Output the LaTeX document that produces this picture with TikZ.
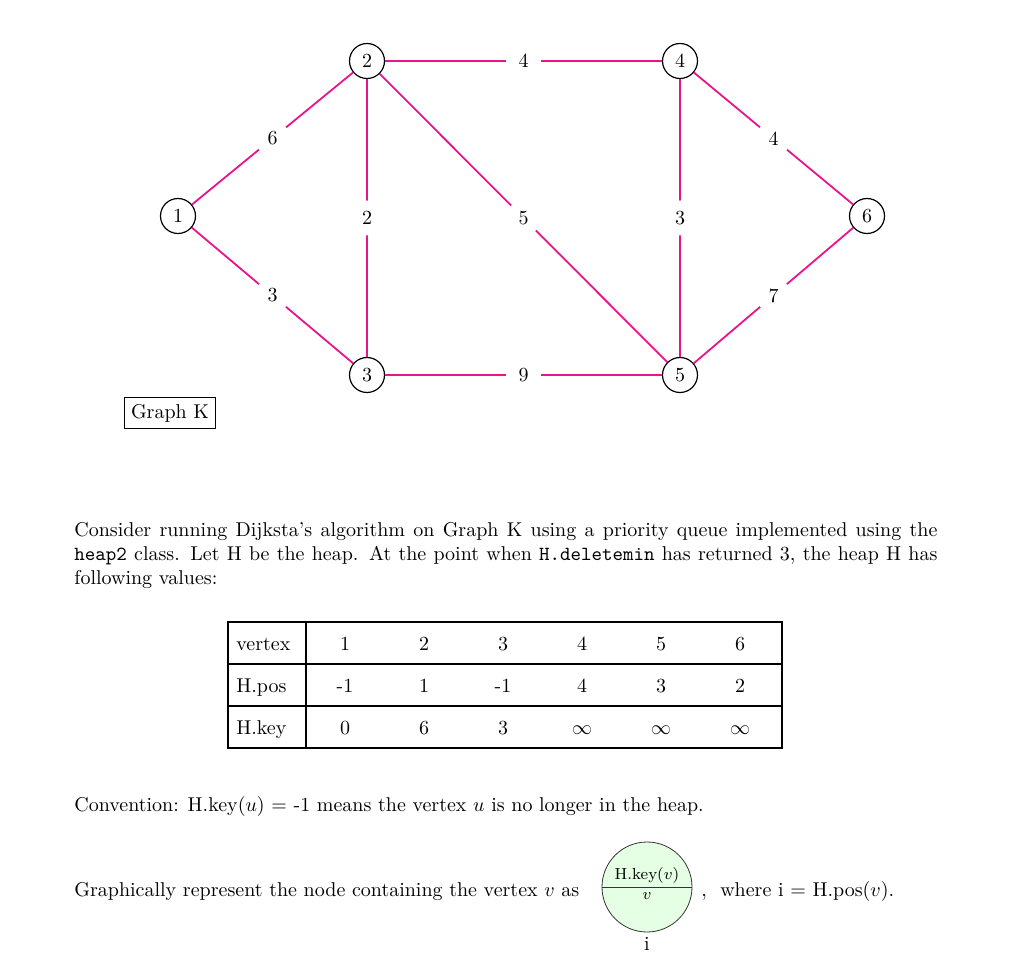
\documentclass[tikz,border=0pt]{standalone}
\definecolor{edgepink}{RGB}{233,20,140}
\begin{document}
\begin{tikzpicture}[x=0.5pt,y=-0.5pt,
  vert/.style={circle,draw,semithick,minimum size=17.5pt,inner sep=0pt},
  wlbl/.style={circle,fill=white,minimum size=17.5pt,inner sep=0pt},
  gedge/.style={draw=edgepink,line width=0.9pt},
  txt/.style={anchor=base west,inner sep=0pt},
  cell/.style={anchor=base,inner sep=0pt},
  tline/.style={line width=0.9pt}]
\useasboundingbox (0,0) rectangle (1024,973);
% vertices
\node[vert] (v1) at (178,216) {1};
\node[vert] (v2) at (367,61) {2};
\node[vert] (v3) at (367,375) {3};
\node[vert] (v4) at (680,61) {4};
\node[vert] (v5) at (680,375) {5};
\node[vert] (v6) at (867,216) {6};
% edges
\draw[gedge] (v1) -- node[wlbl]{6} (v2);
\draw[gedge] (v1) -- node[wlbl]{3} (v3);
\draw[gedge] (v2) -- node[wlbl]{4} (v4);
\draw[gedge] (v2) -- node[wlbl]{2} (v3);
\draw[gedge] (v2) -- node[wlbl]{5} (v5);
\draw[gedge] (v4) -- node[wlbl]{3} (v5);
\draw[gedge] (v3) -- node[wlbl]{9} (v5);
\draw[gedge] (v4) -- node[wlbl]{4} (v6);
\draw[gedge] (v5) -- node[wlbl]{7} (v6);
% graph label
\node[draw,line width=0.8pt] (gk) at (170,413) {Graph K};
% paragraph
\node[anchor=north west,inner sep=0pt,text width=431.5pt,align=justify] (para) at (74,522)
 {Consider running Dijksta's algorithm on Graph K using a priority queue implemented using the \texttt{heap2} class. Let H be the heap. At the point when \texttt{H.deletemin} has returned 3, the heap H has following values:};
% table
\draw[tline] (228,622) rectangle (782,748);
\draw[tline] (228,664) -- (782,664);
\draw[tline] (228,706) -- (782,706);
\draw[tline] (306,622) -- (306,748);
\node[txt] (r1) at (236,650) {vertex};
\node[txt] (r2) at (236,692) {H.pos};
\node[txt] (r3) at (236,734) {H.key};
\foreach \x/\a/\b/\c [count=\i] in {345/1/-1/0, 424/2/1/6, 503/3/-1/3, 582/4/4/$\infty$, 661/5/3/$\infty$, 740/6/2/$\infty$}{
  \node[cell] (ca\i) at (\x,650) {\a};
  \node[cell] (cb\i) at (\x,692) {\b};
  \node[cell] (cc\i) at (\x,734) {\c};
}
% convention
\node[txt] (conv) at (74,811) {Convention: H.key($u$) $=$ -1 means the vertex $u$ is no longer in the heap.};
% graphical representation
\node[txt] (graph) at (74,896) {Graphically represent the node containing the vertex $v$ as};
\node[circle,draw=black!80,fill=green!10,minimum size=45pt,inner sep=0pt] (hn) at (647,887) {};
\draw[black!80] (hn.west) -- (hn.east);
\node[font=\footnotesize,cell] (hk) at (647,879) {H.key($v$)};
\node[font=\footnotesize,cell] (hv) at (647,899) {$v$};
\node[cell] (hi) at (647,950) {i};
\node[txt] (where) at (701,896) {,\ \ where i $=$ H.pos($v$).};
\end{tikzpicture}
\end{document}
